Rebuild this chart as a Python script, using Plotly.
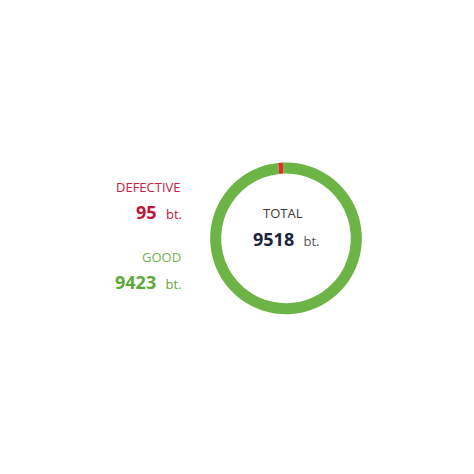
import plotly.graph_objects as go

labels = ["DEFECTIVE", "GOOD"]
values = [95, 9423]
unit = "bt."
slice_colors = ["#e5282c", "#6cb446"]
label_colors = ["#c8203c", "#72b34c"]
number_colors = ["#c0163a", "#5fa83a"]

total = sum(values)
FONT = "Open Sans"

fig = go.Figure()
fig.add_trace(go.Pie(
    labels=labels, values=values, hole=0.855, sort=False,
    direction="counterclockwise", rotation=-6,
    marker=dict(colors=slice_colors, line=dict(width=0)),
    textinfo="none", hoverinfo="label+value", showlegend=False,
    domain=dict(x=[0.426, 0.747], y=[0.354, 0.674]),
))

# left-hand legend texts (page body has an 8px margin, hence the offsets)
label_y = [0.623, 0.474]
number_y = [0.570, 0.421]
for i, name in enumerate(labels):
    fig.add_annotation(x=0.369, y=label_y[i], xref="paper", yref="paper",
                       xanchor="right", yanchor="middle", showarrow=False,
                       text=name, font=dict(family=FONT, size=13, color=label_colors[i]))
    fig.add_annotation(x=0.371, y=number_y[i], xref="paper", yref="paper",
                       xanchor="right", yanchor="middle", showarrow=False,
                       text=f"<b>{values[i]}</b>&nbsp;&nbsp;<span style='font-size:13px'>{unit}</span>",
                       font=dict(family=FONT, size=18, color=number_colors[i]))

# centre texts
fig.add_annotation(x=0.581, y=0.568, xref="paper", yref="paper",
                   xanchor="center", yanchor="middle", showarrow=False,
                   text="TOTAL", font=dict(family=FONT, size=13, color="#3a3a3a"))
fig.add_annotation(x=0.587, y=0.512, xref="paper", yref="paper",
                   xanchor="center", yanchor="middle", showarrow=False,
                   text=f"<b>{total}</b>&nbsp;&nbsp;<span style='font-size:13px;color:#555'>{unit}</span>",
                   font=dict(family=FONT, size=18, color="#1b2540"))

fig.update_layout(width=474, height=474, margin=dict(l=0, r=0, t=0, b=0),
                  paper_bgcolor="white", plot_bgcolor="white")
fig.write_html("out.html")
